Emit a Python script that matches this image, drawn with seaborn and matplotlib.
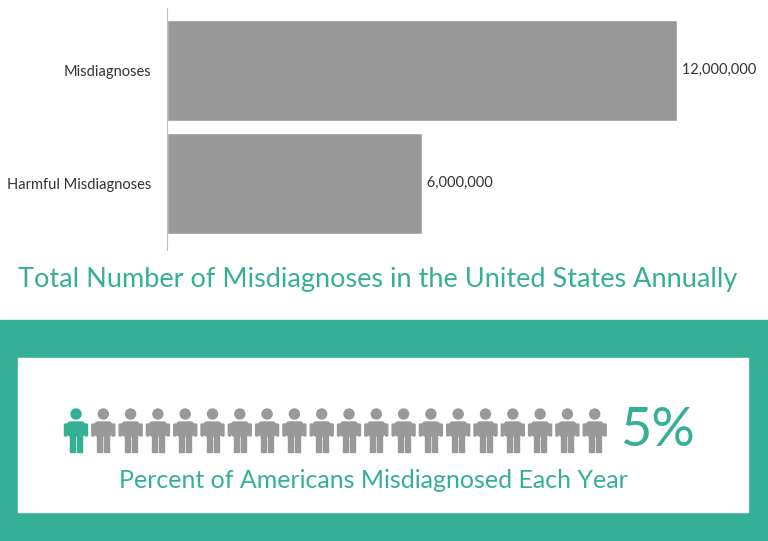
import matplotlib
matplotlib.use("Agg")
import matplotlib.pyplot as plt
import seaborn as sns
import pandas as pd
from matplotlib.patches import Rectangle, Circle, FancyBboxPatch

categories = ["Misdiagnoses", "Harmful Misdiagnoses"]
values = [12000000, 6000000]
value_labels = ["12,000,000", "6,000,000"]
title = "Total Number of Misdiagnoses in the United States Annually"
n_people = 20
n_highlight = 1
pct_label = "5%"
subtitle = "Percent of Americans Misdiagnosed Each Year"

TEAL = "#35b096"
GREY = "#999999"
W, H = 768, 541

sns.set_style("white")
plt.rcParams['font.family'] = ['Lato', 'DejaVu Sans']
fig = plt.figure(figsize=(7.68, 5.41), dpi=100)

bg = fig.add_axes([0, 0, 1, 1], zorder=0)
bg.set_xlim(0, W); bg.set_ylim(H, 0); bg.axis("off")
bg.add_patch(Rectangle((0, 320), W, H - 320, color=TEAL))
bg.add_patch(Rectangle((18, 358), 730, 154, color="white"))
bg.text(378, 280, title, color=TEAL, fontsize=19.5, ha="center", va="center")
bg.text(373, 481, subtitle, color=TEAL, fontsize=18, ha="center", va="center")
bg.text(620, 430, pct_label, color=TEAL, fontsize=39, ha="left", va="center")

for i in range(n_people):
    cx = 76 + i * 27.3
    c = TEAL if i < n_highlight else GREY
    bg.add_patch(Circle((cx, 414), 5, color=c))
    bg.add_patch(FancyBboxPatch((cx - 8.5, 422), 17, 14, boxstyle="round,pad=0,rounding_size=3", color=c))
    bg.add_patch(FancyBboxPatch((cx - 11.5, 424), 2.5, 12, boxstyle="round,pad=0,rounding_size=1", color=c))
    bg.add_patch(FancyBboxPatch((cx + 9, 424), 2.5, 12, boxstyle="round,pad=0,rounding_size=1", color=c))
    bg.add_patch(Rectangle((cx - 6, 434), 5, 18, color=c))
    bg.add_patch(Rectangle((cx + 1, 434), 5, 18, color=c))

left, right = 167 / W, 1.0
top, bottom = 1 - 8 / H, 1 - 250 / H
ax = fig.add_axes([left, bottom, right - left, top - bottom], zorder=1)
ax.patch.set_alpha(0)
df = pd.DataFrame({"cat": categories, "val": values})
sns.barplot(data=df, y="cat", x="val", color=GREY, saturation=1, width=0.89, ax=ax)
ax.set_xlim(0, 12000000 * (W - 167) / 510)
ax.set_ylim(1.59, -0.55)
for s in ["top", "right", "bottom"]:
    ax.spines[s].set_visible(False)
ax.spines["left"].set_color("#bbbbbb")
ax.set_xticks([])
ax.set_xlabel(""); ax.set_ylabel("")
ax.tick_params(axis="y", length=0, labelsize=10.5, labelcolor="#333333", pad=11)
for i, (v, lab) in enumerate(zip(values, value_labels)):
    ax.text(v + 30000, i, " " + lab, va="center", ha="left", fontsize=10.5, color="#333333")

fig.savefig("out.png", dpi=100)
